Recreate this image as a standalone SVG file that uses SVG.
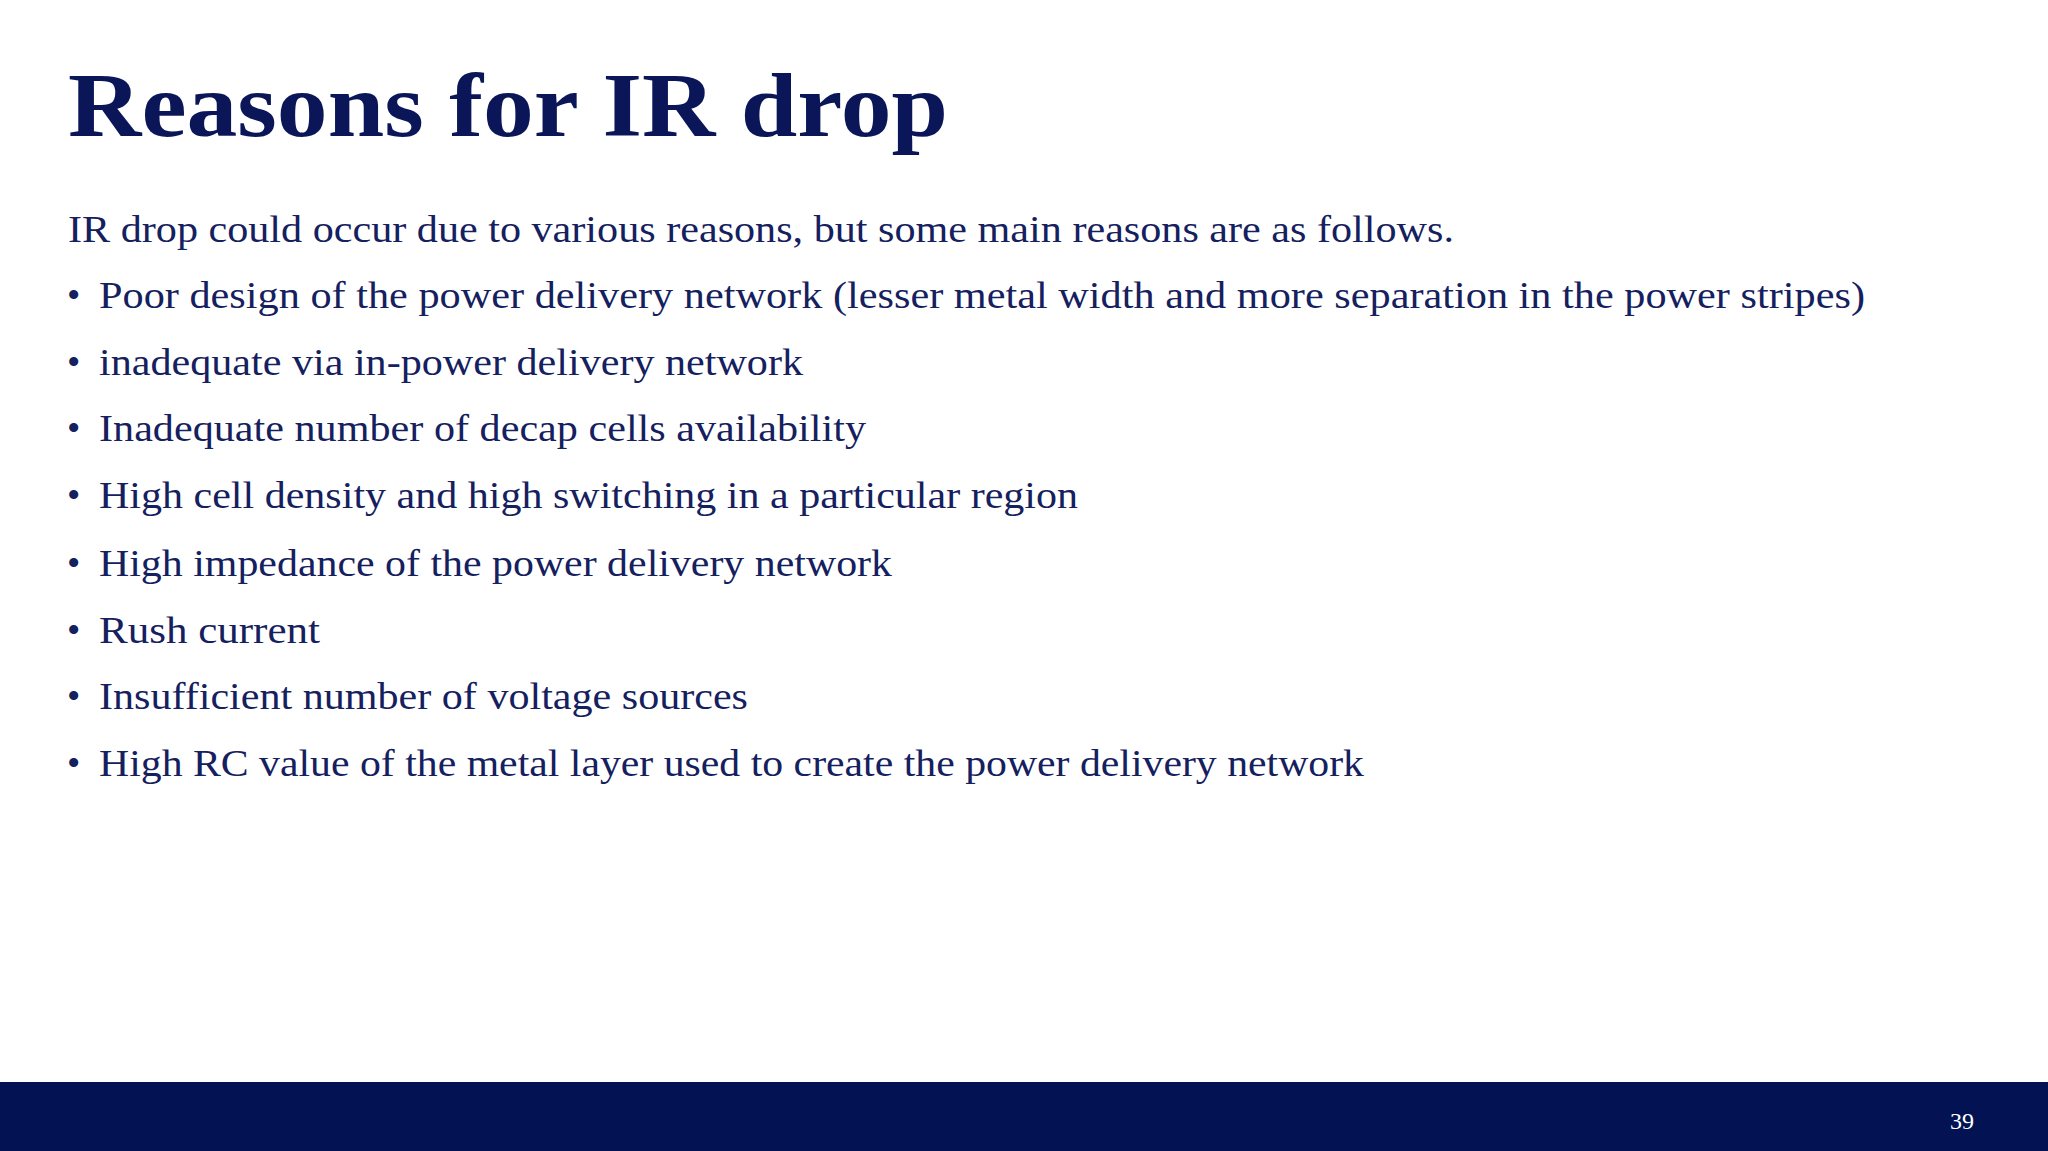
<svg xmlns="http://www.w3.org/2000/svg" width="2048" height="1151" viewBox="0 0 2048 1151">
<style>
.t{font-family:"Liberation Serif","DejaVu Serif",serif;fill:#0b1658}
.b{font-family:"Liberation Serif","DejaVu Serif",serif;font-size:38px;fill:#15205e}
</style>
<rect width="2048" height="1151" fill="#ffffff"/>
<g id="title"><text class="t" x="68" y="136" font-size="90" font-weight="bold" textLength="880" lengthAdjust="spacingAndGlyphs">Reasons for IR drop</text></g>
<g id="body">
<text class="b" x="68" y="242" textLength="1386" lengthAdjust="spacingAndGlyphs">IR drop could occur due to various reasons, but some main reasons are as follows.</text>
<g class="b">
<text class="b" x="67" y="308">•</text><text class="b" x="99" y="308" textLength="1766" lengthAdjust="spacingAndGlyphs">Poor design of the power delivery network (lesser metal width and more separation in the power stripes)</text>
<text class="b" x="67" y="375">•</text><text class="b" x="99" y="375" textLength="704" lengthAdjust="spacingAndGlyphs">inadequate via in-power delivery network</text>
<text class="b" x="67" y="441">•</text><text class="b" x="99" y="441" textLength="767" lengthAdjust="spacingAndGlyphs">Inadequate number of decap cells availability</text>
<text class="b" x="67" y="508">•</text><text class="b" x="99" y="508" textLength="979" lengthAdjust="spacingAndGlyphs">High cell density and high switching in a particular region</text>
<text class="b" x="67" y="576">•</text><text class="b" x="99" y="576" textLength="793" lengthAdjust="spacingAndGlyphs">High impedance of the power delivery network</text>
<text class="b" x="67" y="643">•</text><text class="b" x="99" y="643" textLength="221" lengthAdjust="spacingAndGlyphs">Rush current</text>
<text class="b" x="67" y="709">•</text><text class="b" x="99" y="709" textLength="649" lengthAdjust="spacingAndGlyphs">Insufficient number of voltage sources</text>
<text class="b" x="67" y="776">•</text><text class="b" x="99" y="776" textLength="1265" lengthAdjust="spacingAndGlyphs">High RC value of the metal layer used to create the power delivery network</text>
</g>
</g>
<g id="footer">
<rect x="0" y="1082" width="2048" height="69" fill="#021253"/>
<text x="1950" y="1129" font-family="Liberation Serif,serif" font-size="24" fill="#ffffff">39</text>
</g>
</svg>
